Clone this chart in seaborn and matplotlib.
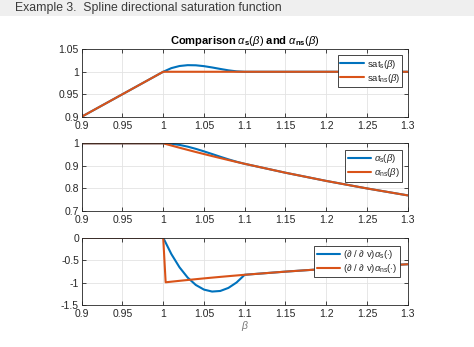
import matplotlib
matplotlib.use("Agg")
import matplotlib.pyplot as plt
import seaborn as sns
import pandas as pd

# ---------------- data ----------------
beta_sat = [0.90, 1.00, 1.01, 1.02, 1.03, 1.04, 1.05, 1.06, 1.07, 1.08, 1.09, 1.10, 1.30]
sat_s    = [0.90, 1.0000, 1.0081, 1.0128, 1.0147, 1.0144, 1.0125, 1.0096, 1.0063, 1.0032, 1.0009, 1.0000, 1.0000]
beta_ns  = [0.90, 1.00, 1.30]
sat_ns   = [0.90, 1.00, 1.00]

beta_a   = [0.90, 1.00, 1.01, 1.02, 1.03, 1.04, 1.05, 1.06, 1.07, 1.08, 1.09, 1.10, 1.15, 1.20, 1.25, 1.30]
alpha_s  = [1.0, 1.0, 0.9981, 0.9929, 0.9852, 0.9754, 0.9643, 0.9525, 0.9405, 0.9289, 0.9183, 0.9091, 0.8696, 0.8333, 0.8000, 0.7692]
alpha_ns = [1.0, 1.0, 0.9901, 0.9804, 0.9709, 0.9615, 0.9524, 0.9434, 0.9346, 0.9259, 0.9174, 0.9091, 0.8696, 0.8333, 0.8000, 0.7692]

beta_ds  = [0.90, 1.00, 1.01, 1.02, 1.03, 1.04, 1.05, 1.06, 1.07, 1.08, 1.09, 1.10, 1.15, 1.20, 1.25, 1.30]
dalpha_s = [0.0, 0.0, -0.3645, -0.6597, -0.8885, -1.0533, -1.1565, -1.2004, -1.1874, -1.1193, -0.9984, -0.8264, -0.7561, -0.6944, -0.6400, -0.5917]
beta_dn  = [0.90, 1.00, 1.003, 1.01, 1.02, 1.03, 1.04, 1.05, 1.06, 1.07, 1.08, 1.09, 1.10, 1.15, 1.20, 1.25, 1.30]
dalpha_ns = [0.0, 0.0, -0.994, -0.9803, -0.9612, -0.9426, -0.9246, -0.9070, -0.8900, -0.8734, -0.8573, -0.8417, -0.8264, -0.7561, -0.6944, -0.6400, -0.5917]

xticks = [0.9, 0.95, 1.0, 1.05, 1.1, 1.15, 1.2, 1.25, 1.3]
xticklabels = ["0.9", "0.95", "1", "1.05", "1.1", "1.15", "1.2", "1.25", "1.3"]
yticks1 = [0.9, 0.95, 1.0, 1.05]
yticklabels1 = ["0.9", "0.95", "1", "1.05"]
yticks2 = [0.7, 0.8, 0.9, 1.0]
yticklabels2 = ["0.7", "0.8", "0.9", "1"]
yticks3 = [-1.5, -1.0, -0.5, 0.0]
yticklabels3 = ["-1.5", "-1", "-0.5", "0"]

header = "Example 3.  Spline directional saturation function"
title = r"Comparison $\alpha_{\mathbf{s}}(\beta)$ and $\alpha_{\mathbf{ns}}(\beta)$"
leg1 = [r"$\mathrm{sat}_{\mathrm{s}}(\beta)$", r"$\mathrm{sat}_{\mathrm{ns}}(\beta)$"]
leg2 = [r"$\alpha_{\mathrm{s}}(\beta)$", r"$\alpha_{\mathrm{ns}}(\beta)$"]
leg3 = [r"$(\partial\ /\ \partial\ \mathrm{v})\alpha_{\mathrm{s}}(\cdot)$",
        r"$(\partial\ /\ \partial\ \mathrm{v})\alpha_{\mathrm{ns}}(\cdot)$"]

# ---------------- style ----------------
sns.set_theme(style="white")
plt.rcParams["font.family"] = ["Liberation Sans", "DejaVu Sans"]
plt.rcParams["mathtext.fontset"] = "custom"
plt.rcParams["mathtext.rm"] = "Liberation Sans"
plt.rcParams["mathtext.it"] = "Liberation Sans:italic"
plt.rcParams["mathtext.bf"] = "Liberation Sans:bold"

BLUE = "#0072BD"
ORANGE = "#D95319"
AXC = "#262626"
GRIDC = "#e3e3e3"

W, H = 474, 347
fig = plt.figure(figsize=(W / 100, H / 100), dpi=100)
fig.patch.set_facecolor("white")

# header bar
fig.patches.append(plt.Rectangle((0, 1 - 16 / H), 1, 16 / H, transform=fig.transFigure,
                                 facecolor="#efefef", edgecolor="none", zorder=0))
fig.text(15 / W, 1 - 8.5 / H, header, fontsize=8.8, color="#3a3a3a", va="center", ha="left")

left = 81.7 / W
width = (407.7 - 81.7) / W
pos = [(49.3, 116.7), (143.3, 211.0), (237.7, 305.0)]
axes = []
for top, bot in pos:
    ax = fig.add_axes([left, 1 - bot / H, width, (bot - top) / H])
    axes.append(ax)

def style_axis(ax, yticks, yticklabels, ylim):
    ax.set_xlim(0.9, 1.3)
    ax.set_ylim(*ylim)
    ax.set_xticks(xticks)
    ax.set_xticklabels(xticklabels)
    ax.set_yticks(yticks)
    ax.set_yticklabels(yticklabels)
    ax.grid(True, color=GRIDC, linewidth=0.6)
    ax.set_axisbelow(True)
    for s in ax.spines.values():
        s.set_color(AXC)
        s.set_linewidth(0.6)
        s.set_visible(True)
    ax.tick_params(direction="in", length=3, width=0.6, colors=AXC, labelsize=7.5,
                   top=True, right=True, bottom=True, left=True)
    ax.tick_params(axis="x", pad=3)
    ax.tick_params(axis="y", pad=2)
    ax.set_xlabel("")
    ax.set_ylabel("")

def legend(ax, labels, bbox):
    h, _ = ax.get_legend_handles_labels()
    lg = ax.legend(h, labels, loc="upper right", bbox_to_anchor=bbox, fontsize=6.8,
                   frameon=True, fancybox=False, framealpha=1, edgecolor=AXC,
                   handlelength=2.5, handletextpad=0.3, borderpad=0.25, labelspacing=0.1,
                   borderaxespad=0)
    lg.get_frame().set_linewidth(0.6)

lw = 1.5
ax1, ax2, ax3 = axes
sns.lineplot(x=beta_sat, y=sat_s, ax=ax1, color=BLUE, lw=lw, sort=False, estimator=None, label="a")
sns.lineplot(x=beta_ns, y=sat_ns, ax=ax1, color=ORANGE, lw=lw, sort=False, estimator=None, label="b")
style_axis(ax1, yticks1, yticklabels1, (0.9, 1.05))
legend(ax1, leg1, (0.984, 0.91))
ax1.set_title(title, fontsize=8, fontweight="bold", pad=3.5, color="black")

sns.lineplot(x=beta_a, y=alpha_s, ax=ax2, color=BLUE, lw=lw, sort=False, estimator=None, label="a")
sns.lineplot(x=beta_a, y=alpha_ns, ax=ax2, color=ORANGE, lw=lw, sort=False, estimator=None, label="b")
style_axis(ax2, yticks2, yticklabels2, (0.7, 1.0))
legend(ax2, leg2, (0.984, 0.9))

sns.lineplot(x=beta_ds, y=dalpha_s, ax=ax3, color=BLUE, lw=lw, sort=False, estimator=None, label="a")
sns.lineplot(x=beta_dn, y=dalpha_ns, ax=ax3, color=ORANGE, lw=lw, sort=False, estimator=None, label="b")
style_axis(ax3, yticks3, yticklabels3, (-1.5, 0.0))
legend(ax3, leg3, (0.975, 0.88))
ax3.set_xlabel(r"$\beta$", fontsize=7.5, color="#777777", labelpad=0)

fig.savefig("out.png", dpi=100)
